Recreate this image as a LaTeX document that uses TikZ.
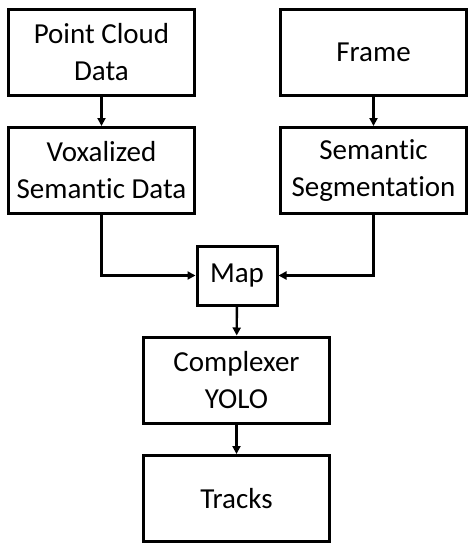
\documentclass[tikz,border=0pt]{standalone}
\usepackage{fontspec}
\setmainfont[Ligatures=NoCommon]{Carlito}
\usetikzlibrary{arrows.meta}
\begin{document}
\begin{tikzpicture}[x=1pt,y=-1pt,
  box/.style={draw=black,line width=3pt,fill=white,minimum width=186pt,minimum height=86pt,
    inner sep=0pt,align=center,font=\fontsize{29}{37}\selectfont},
  conn/.style={draw=black,line width=2.4pt,-{Triangle[length=8pt,width=8pt]}}]
\useasboundingbox[fill=white] (0,0) rectangle (474,551);
\node[box] (pc) at (101.5,52.5) {Point Cloud\\Data};
\node[box] (vox) at (101.5,170.5) {Voxalized\\Semantic Data};
\node[box] (frame) at (373.5,52.5) {Frame};
\node[box] (seg) at (373.5,170.5) {Semantic\\Segmentation};
\node[box,minimum width=80pt,minimum height=59pt] (map) at (237,275.5) {Map};
\node[box] (cy) at (236.5,380) {Complexer\\YOLO};
\node[box] (tr) at (236.5,498.5) {Tracks};
\draw[conn] (pc) -- (vox);
\draw[conn] (frame) -- (seg);
\draw[conn] (vox.south) |- (map.west);
\draw[conn] (seg.south) |- (map.east);
\draw[conn] (map) -- (cy);
\draw[conn] (cy) -- (tr);
\end{tikzpicture}
\end{document}
